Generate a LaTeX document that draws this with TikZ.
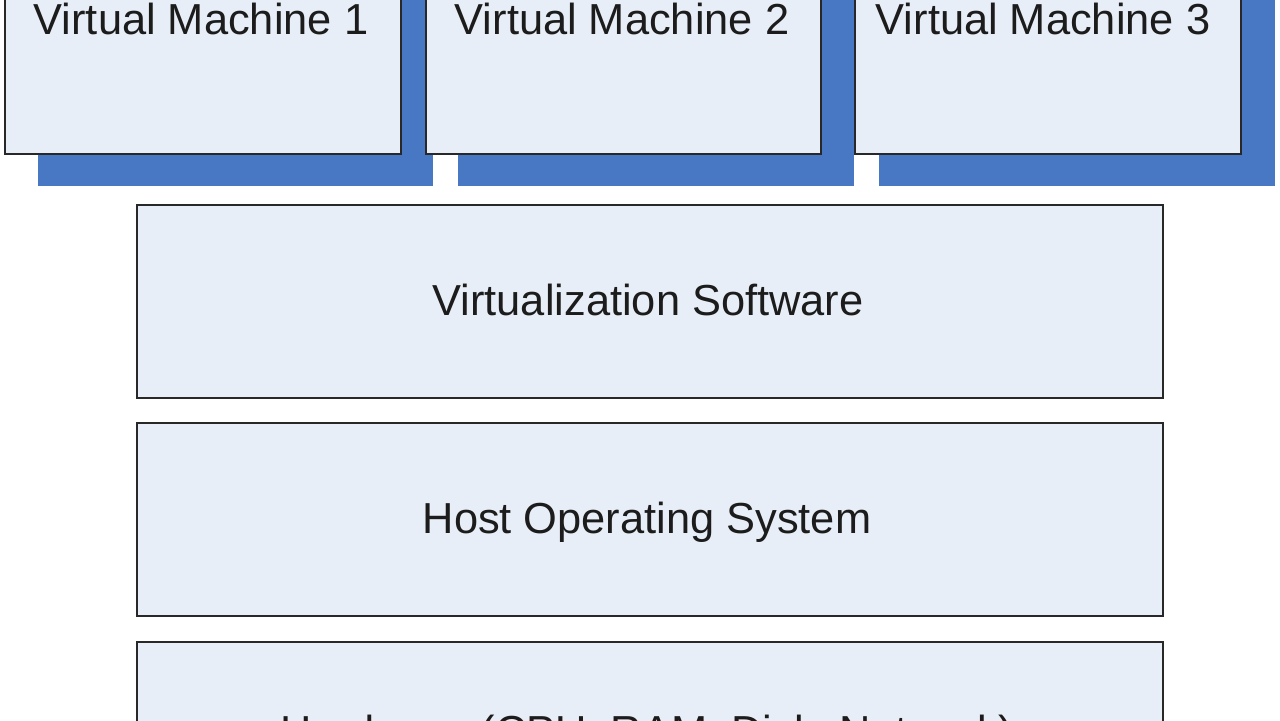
\documentclass[tikz,border=0pt]{standalone}
\usepackage{fontspec}
\setmainfont{Liberation Sans}
\definecolor{boxfill}{RGB}{232,238,247}
\definecolor{shadowblue}{RGB}{72,120,196}
\definecolor{edge}{RGB}{40,40,40}
\definecolor{txt}{RGB}{28,28,28}
\begin{document}
\begin{tikzpicture}[x=0.02cm,y=-0.02cm,
  front/.style={draw=edge,line width=1.2pt,fill=boxfill,inner sep=0pt,outer sep=0pt,minimum height=3.86cm},
  shadowbox/.style={fill=shadowblue,inner sep=0pt,outer sep=0pt,minimum width=7.92cm,minimum height=3.86cm},
  layer/.style={draw=edge,line width=1.2pt,fill=boxfill,inner sep=0pt,outer sep=0pt,minimum width=20.52cm,minimum height=3.86cm},
  lbl/.style={anchor=base,inner sep=0pt,text=txt,font=\fontsize{24.7}{30}\selectfont}]
\useasboundingbox (0,0) rectangle (1280,720);
\clip (0,0) rectangle (1280,720);
\fill[white] (0,0) rectangle (1280,720);
% shadows
\node[shadowbox] (s1) at (235.5,89.5) {};
\node[shadowbox] (s2) at (656,89.5) {};
\node[shadowbox] (s3) at (1077,89.5) {};
% virtual machines
\node[front,minimum width=7.92cm] (vm1) at (203,57.5) {};
\node[front,minimum width=7.9cm] (vm2) at (623.5,57.5) {};
\node[front,minimum width=7.72cm] (vm3) at (1048,57.5) {};
\node[lbl] (t1) at (201,34) {Virtual Machine 1};
\node[lbl] (t2) at (622,34) {Virtual Machine 2};
\node[lbl] (t3) at (1043,34) {Virtual Machine 3};
% layers
\node[layer] (virt) at (650,301.5) {};
\node[layer] (host) at (650,519.5) {};
\node[layer] (hw) at (650,738.5) {};
\node[lbl] (tv) at (648,315) {Virtualization Software};
\node[lbl] (th) at (647,533) {Host Operating System};
\node[lbl] (tw) at (647,746) {Hardware (CPU, RAM, Disk, Network)};
\end{tikzpicture}
\end{document}
